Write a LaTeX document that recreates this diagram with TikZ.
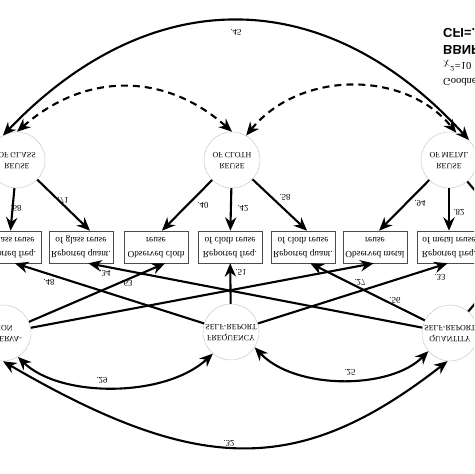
\documentclass[tikz,border=0pt]{standalone}
\usepackage{amsmath}
\usepackage{fontspec}
\setmainfont{Liberation Serif}
\setsansfont{Liberation Sans}
\usepackage{tikz}
\usetikzlibrary{arrows.meta}

\newcommand{\flip}[1]{\scalebox{1}[-1]{#1}}
\newcommand{\flipii}[2]{\scalebox{1}[-1]{\begin{tabular}{@{}c@{}}#1\\#2\end{tabular}}}

\begin{document}
\begin{tikzpicture}[x=0.3mm,y=-0.3mm,
    >={Stealth[length=4mm,width=3.4mm]},
    latent/.style={circle,draw=gray!45,minimum size=16.8mm,inner sep=0pt,font=\fontsize{6.8}{9}\selectfont},
    indic/.style={rectangle,draw=black!70,line width=0.5pt,minimum width=19.2mm,minimum height=9.6mm,inner sep=0pt,font=\fontsize{8}{11.5}\selectfont},
    load/.style={->,line width=1.8pt},
    cov/.style={<->,line width=1.8pt},
    dsh/.style={dash pattern=on 2.1mm off 1.5mm},
    lab/.style={font=\fontsize{7.5}{8}\selectfont,inner sep=0pt},
    stat/.style={anchor=west,inner sep=0pt}]

    \clip (0,0) rectangle (474,474);

    % Place the factors
    \node[latent] (glass) at (17,160)  {\flipii{REUSE}{OF GLASS}};
    \node[latent] (cloth) at (232,160) {\flipii{REUSE}{OF CLOTH}};
    \node[latent] (metal) at (449,160) {\flipii{REUSE}{OF METAL}};
    \node[latent] (obsv)  at (3,333)   {\flipii{OBSERVA-}{TION}};
    \node[latent] (freq)  at (231,332) {\flipii{FREQUENCY}{SELF-REPORT}};
    \node[latent] (quant) at (450,333) {\flipii{QUANTITY}{SELF-REPORT}};

    % Place the measures
    \node[indic] (fg) at (9,247)   {\flipii{Reported freq.}{of glass reuse}};
    \node[indic] (qg) at (81,247)  {\flipii{Reported quant.}{of glass reuse}};
    \node[indic] (oc) at (156,247) {\flipii{Observed cloth}{reuse}};
    \node[indic] (fc) at (230,247) {\flipii{Reported freq.}{of cloth reuse}};
    \node[indic] (qc) at (303,247) {\flipii{Reported quant.}{of cloth reuse}};
    \node[indic] (om) at (375,247) {\flipii{Observed metal}{reuse}};
    \node[indic] (fm) at (449,247) {\flipii{Reported freq.}{of metal reuse}};
    \node[indic] (qm) at (523,247) {\flipii{Reported quant.}{of metal reuse}};

    % Draw the loadings
    \draw[load] (glass) -- (fg);
    \draw[load] (glass) -- (qg.61);
    \draw[load] (cloth) -- (oc.70);
    \draw[load] (cloth) -- (fc);
    \draw[load] (cloth) -- (qc.76);
    \draw[load] (metal) -- (om.76);
    \draw[load] (metal) -- (fm);
    \draw[load] (metal) -- (qm);

    \draw[load] (obsv) -- (oc.-61);
    \draw[load] (obsv) -- (om.-95);
    \draw[load] (freq) -- (fg.-70);
    \draw[load] (freq) -- (fc);
    \draw[load] (freq) -- (fm.-95);
    \draw[load] (quant) -- (qg.-66);
    \draw[load] (quant) -- (qc.-66);
    \draw[load] (quant) -- (qm);

    % Then the correlations
    \draw[cov] (glass.120) .. controls (150,-18) and (325,-18) .. (metal.45);
    \draw[cov,dsh] (glass.90) .. controls (85,72) and (165,72) .. (cloth.90);
    \draw[cov,dsh] (cloth.60) .. controls (300,70) and (405,70) .. (metal.75);
    \draw[cov] (obsv.-58) .. controls (60,398) and (165,398) .. (freq.-130);
    \draw[cov] (freq.-33) .. controls (295,390) and (390,390) .. (quant.-140);
    \draw[cov] (obsv.-90) .. controls (200,476) and (300,476) .. (quant.-95);

    % Finally the coefficients
    \node[lab] (l45) at (236,32)  {\flip{.45}};
    \node[lab] (l68) at (16,208)  {\flip{.68}};
    \node[lab] (l71) at (63,200)  {\flip{.71}};
    \node[lab] (l40) at (203,205) {\flip{.40}};
    \node[lab] (l42) at (243,208) {\flip{.42}};
    \node[lab] (l58) at (285,197) {\flip{.58}};
    \node[lab] (l94) at (420,203) {\flip{.94}};
    \node[lab] (l82) at (459,212) {\flip{.82}};
    \node[lab] (l48) at (49,282)  {\flip{.48}};
    \node[lab] (l34) at (105,273) {\flip{.34}};
    \node[lab] (l63) at (127,283) {\flip{.63}};
    \node[lab] (l51) at (241,272) {\flip{.51}};
    \node[lab] (l27) at (360,282) {\flip{.27}};
    \node[lab] (l33) at (440,277) {\flip{.33}};
    \node[lab] (l56) at (395,300) {\flip{.56}};
    \node[lab] (l29) at (102,380) {\flip{.29}};
    \node[lab] (l25) at (350,372) {\flip{.25}};
    \node[lab] (l32) at (229,443) {\flip{.32}};

    % Fit indices
    \node[stat,font=\sffamily\bfseries\fontsize{11}{12}\selectfont] (cfi) at (443,33) {\flip{CFI=.9}};
    \node[stat,font=\sffamily\bfseries\fontsize{11}{12}\selectfont] (bbnfi) at (443,50) {\flip{BBNFI=.9}};
    \node[stat,font=\fontsize{9}{10}\selectfont] (chi) at (443,66) {\flip{$\chi^2$=10}};
    \node[stat,font=\fontsize{9}{10}\selectfont] (gfit) at (443,82) {\flip{Goodness}};

\end{tikzpicture}
\end{document}
